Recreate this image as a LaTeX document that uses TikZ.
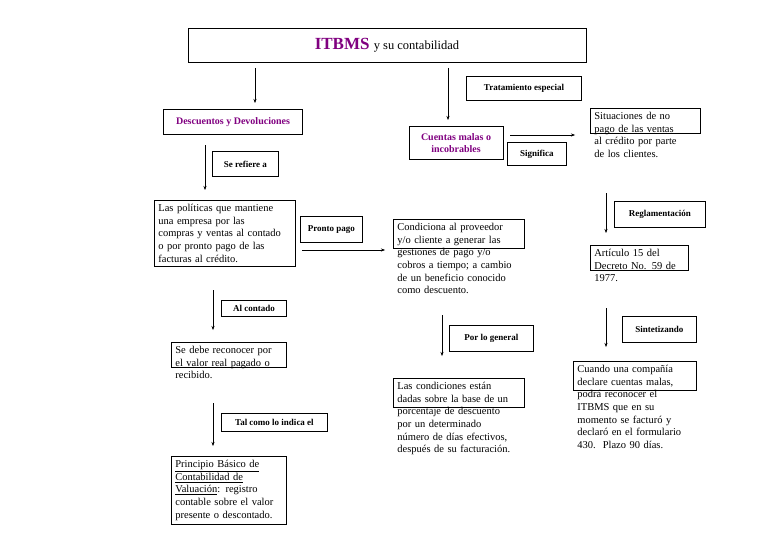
\documentclass[tikz,border=0pt]{standalone}
\usepackage{fontspec}
\setmainfont{Liberation Serif}
\usetikzlibrary{arrows.meta}
\definecolor{titpurple}{RGB}{128,0,128}
\tikzset{
  box/.style={draw, thick, align=left, inner sep=4pt, font=\fontsize{10.5}{12.6}\selectfont},
  tag/.style={draw, thick, align=left, inner sep=3pt, font=\fontsize{9}{10}\selectfont\bfseries},
  head/.style={draw, thick, align=center, inner sep=3pt, text=titpurple, font=\fontsize{10}{12}\selectfont\bfseries},
  flow/.style={-{Stealth[length=4pt,width=3pt]}}
}
\begin{document}
\begin{tikzpicture}[x=1pt,y=-1pt]
  \useasboundingbox (0,0) rectangle (768,543);
  % heads
  \node[draw, thick, minimum width=398, minimum height=34] (title) at (387,45)
    {\fontsize{17}{20}\selectfont\textcolor{titpurple}{\bfseries ITBMS} \fontsize{12.5}{15}\selectfont y su contabilidad};
  \node[head, minimum width=139, minimum height=25] (desc) at (233,122) {Descuentos y Devoluciones};
  \node[head, minimum width=94, minimum height=33] (cuentas) at (456,143) {Cuentas malas o\\incobrables};
  % labels on the arrows
  \node[tag, minimum width=115, minimum height=24] (trat) at (524,88) {Tratamiento especial};
  \node[tag, minimum width=59, minimum height=23, anchor=north west] (sig) at (507,142) {Significa};
  \node[tag, minimum width=66, minimum height=25, anchor=north west] (refiere) at (212,151) {Se refiere a};
  \node[tag, minimum width=62, minimum height=26, anchor=north west] (pronto) at (300,216) {Pronto pago};
  \node[tag, minimum width=65, minimum height=16, anchor=north west] (alcont) at (221,300) {Al contado};
  \node[tag, minimum width=106, minimum height=18, anchor=north west] (talcomo) at (221,413) {Tal como lo indica el};
  \node[tag, minimum width=84, minimum height=26, anchor=north west] (porlo) at (449,325) {Por lo general};
  \node[tag, minimum width=91, minimum height=26, anchor=north west] (regla) at (614,201) {Reglamentación};
  \node[tag, minimum width=74, minimum height=26, anchor=north west] (sinte) at (622,316) {Sintetizando};
  % text boxes
  \node[box, text width=133, anchor=north west] (politicas) at (154,200)
    {Las políticas que mantiene\\una empresa por las\\compras y ventas al contado\\o por pronto pago de las\\facturas al crédito.};
  \node[box, text width=123, text depth=14pt, anchor=north west] (condiciona) at (393,219)
    {Condiciona al proveedor\\y/o cliente a generar las\\gestiones de pago y/o\\cobros a tiempo; a cambio\\de un beneficio conocido\\como descuento.};
  \node[box, text width=102, text depth=10pt, anchor=north west] (situac) at (590,108)
    {Situaciones de no\\pago de las ventas\\al crédito por parte\\de los clientes.};
  \node[box, text width=90, text depth=10pt, anchor=north west] (articulo) at (590,245)
    {Artículo 15 del\\Decreto No. 59 de\\1977.};
  \node[box, text width=107, text depth=10pt, anchor=north west] (sedebe) at (171,342)
    {Se debe reconocer por\\el valor real pagado o\\recibido.};
  \node[box, text width=123, text depth=14pt, anchor=north west] (condic) at (393,378)
    {Las condiciones están\\dadas sobre la base de un\\porcentaje de descuento\\por un determinado\\número de días efectivos,\\después de su facturación.};
  \node[box, text width=115, text depth=14pt, anchor=north west] (cuando) at (573,361)
    {Cuando una compañía\\declare cuentas malas,\\podrá reconocer el\\ITBMS que en su\\momento se facturó y\\declaró en el formulario\\430.\ \ Plazo 90 días.};
  \node[box, text width=107, anchor=north west] (principio) at (171,456)
    {\underline{Principio Básico de}\\\underline{Contabilidad de}\\\underline{Valuación}: registro\\contable sobre el valor\\presente o descontado.};
  % arrow ends
  \coordinate (a1) at (255,68);  \coordinate (b1) at (255,103);
  \coordinate (a2) at (448,68);  \coordinate (b2) at (448,120);
  \coordinate (a3) at (205,145); \coordinate (b3) at (205,190);
  \coordinate (a4) at (302,250); \coordinate (b4) at (385,250);
  \coordinate (a5) at (510,135); \coordinate (b5) at (575,135);
  \coordinate (a6) at (213,290); \coordinate (b6) at (213,330);
  \coordinate (a7) at (442,315); \coordinate (b7) at (442,356);
  \coordinate (a8) at (606,193); \coordinate (b8) at (606,233);
  \coordinate (a9) at (606,308); \coordinate (b9) at (606,347);
  \coordinate (a10) at (213,403); \coordinate (b10) at (213,446);
  \foreach \i in {1,...,10}
    \draw[flow] (a\i) -- (b\i);
\end{tikzpicture}
\end{document}
